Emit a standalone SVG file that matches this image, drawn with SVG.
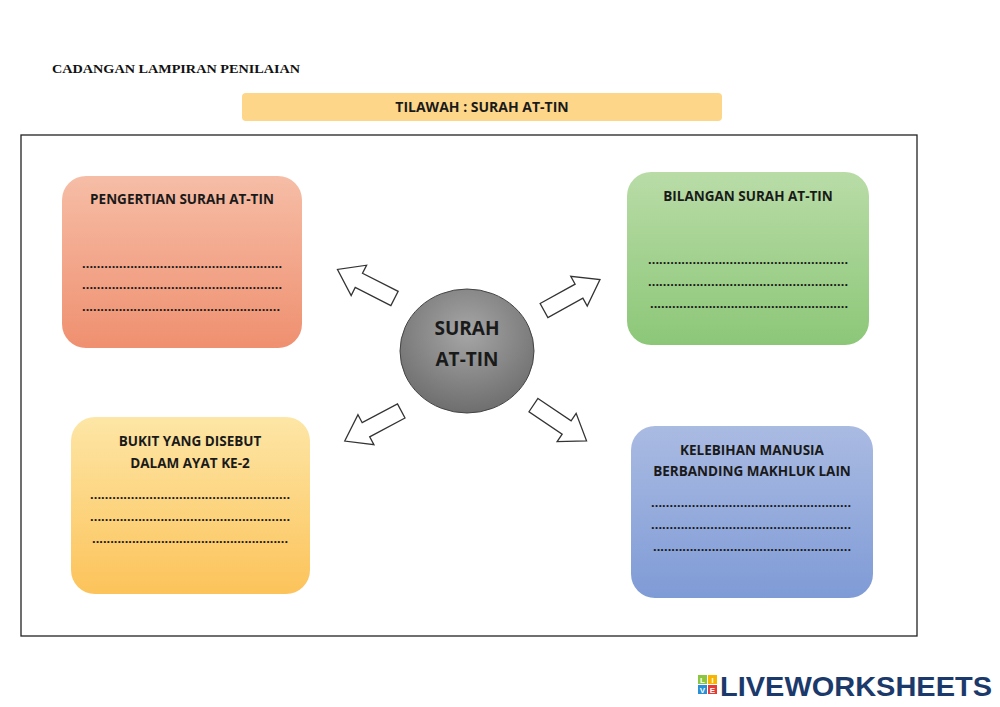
<svg xmlns="http://www.w3.org/2000/svg" width="1000" height="707" viewBox="0 0 1000 707">
<style>
.t{font-family:"Open Sans","Liberation Sans",sans-serif;font-weight:bold;font-size:13.5px;fill:#1a1a1a;text-anchor:middle}
.d{font-family:"Liberation Sans",sans-serif;font-weight:bold;font-size:13px;fill:#1a1a1a}
.arr{fill:#fff;stroke:#333;stroke-width:1.3}
.l{font-family:"Liberation Sans",sans-serif;font-weight:bold;font-size:8px;fill:#fff;text-anchor:middle}
</style>
<defs>
<linearGradient id="gr" x1="0" y1="0" x2="0" y2="1"><stop offset="0" stop-color="#f6bda6"/><stop offset="1" stop-color="#ef9070"/></linearGradient>
<linearGradient id="gg" x1="0" y1="0" x2="0" y2="1"><stop offset="0" stop-color="#b9dca7"/><stop offset="1" stop-color="#8cc778"/></linearGradient>
<linearGradient id="gy" x1="0" y1="0" x2="0" y2="1"><stop offset="0" stop-color="#fde6a6"/><stop offset="1" stop-color="#fcc35a"/></linearGradient>
<linearGradient id="gb" x1="0" y1="0" x2="0" y2="1"><stop offset="0" stop-color="#aabbe2"/><stop offset="1" stop-color="#7f9bd6"/></linearGradient>
<radialGradient id="gc" cx="0.5" cy="0.35" r="0.7"><stop offset="0" stop-color="#a6a6a6"/><stop offset="1" stop-color="#6a6a6a"/></radialGradient>
<polygon id="ar" class="arr" points="-32,-8 8,-8 8,-17 32,0 8,17 8,8 -32,8"/>
</defs>
<rect width="1000" height="707" fill="#fff"/>
<text x="52" y="73" style="font-family:'Liberation Serif',serif;font-weight:bold;font-size:13px" fill="#111" textLength="248" lengthAdjust="spacingAndGlyphs">CADANGAN LAMPIRAN PENILAIAN</text>
<g id="title"><rect x="242" y="93" width="480" height="28" rx="4" fill="#fdd68a"/><text class="t" x="482" y="112" style="font-size:14px">TILAWAH : SURAH AT-TIN</text></g>
<rect x="21" y="135" width="896" height="501" fill="none" stroke="#222" stroke-width="1.3"/>
<g id="connectors">
<use href="#ar" transform="translate(366,284) rotate(-153)"/>
<use href="#ar" transform="translate(572,295) rotate(-29)"/>
<use href="#ar" transform="translate(373,426) rotate(152)"/>
<use href="#ar" transform="translate(560,423) rotate(34)"/>
</g>
<g id="center"><ellipse cx="467" cy="351" rx="67" ry="62" fill="url(#gc)" stroke="#444" stroke-width="1"/>
<text class="t" x="467" y="335" style="font-size:19px">SURAH</text><text class="t" x="467" y="366" style="font-size:19px">AT-TIN</text></g>
<g id="n1"><rect x="62" y="176" width="240" height="172" rx="24" fill="url(#gr)"/>
<text class="t" x="182" y="204">PENGERTIAN SURAH AT-TIN</text>
<text class="d" x="82" y="268" textLength="200">......................................................</text>
<text class="d" x="82" y="289" textLength="200">......................................................</text>
<text class="d" x="82" y="311" textLength="198">......................................................</text></g>
<g id="n2"><rect x="627" y="172" width="242" height="173" rx="24" fill="url(#gg)"/>
<text class="t" x="748" y="201">BILANGAN SURAH AT-TIN</text>
<text class="d" x="648" y="264" textLength="200">......................................................</text>
<text class="d" x="648" y="286" textLength="200">......................................................</text>
<text class="d" x="650" y="308" textLength="198">......................................................</text></g>
<g id="n3"><rect x="71" y="417" width="239" height="177" rx="24" fill="url(#gy)"/>
<text class="t" x="190" y="446">BUKIT YANG DISEBUT</text><text class="t" x="190" y="468">DALAM AYAT KE-2</text>
<text class="d" x="90" y="499" textLength="200">......................................................</text>
<text class="d" x="90" y="521" textLength="200">......................................................</text>
<text class="d" x="92" y="543" textLength="196">......................................................</text></g>
<g id="n4"><rect x="631" y="426" width="242" height="172" rx="24" fill="url(#gb)"/>
<text class="t" x="752" y="455">KELEBIHAN MANUSIA</text><text class="t" x="752" y="476">BERBANDING MAKHLUK LAIN</text>
<text class="d" x="651" y="507" textLength="200">......................................................</text>
<text class="d" x="651" y="529" textLength="200">......................................................</text>
<text class="d" x="653" y="551" textLength="198">......................................................</text></g>
<g id="logo">
<rect x="698" y="675" width="9" height="9" fill="#8cc63f"/><rect x="708" y="675" width="9" height="9" fill="#f7b500"/>
<rect x="698" y="685" width="9" height="9" fill="#2b8fd6"/><rect x="708" y="685" width="9" height="9" fill="#e53935"/>
<text class="l" x="702.5" y="682.5">L</text><text class="l" x="712.5" y="682.5">I</text><text class="l" x="702.5" y="692.5">V</text><text class="l" x="712.5" y="692.5">E</text>
<text x="720" y="696" style="font-family:'Liberation Sans',sans-serif;font-weight:bold;font-size:28px" fill="#1b3a6b" textLength="272" lengthAdjust="spacingAndGlyphs">LIVEWORKSHEETS</text>
</g>
</svg>
